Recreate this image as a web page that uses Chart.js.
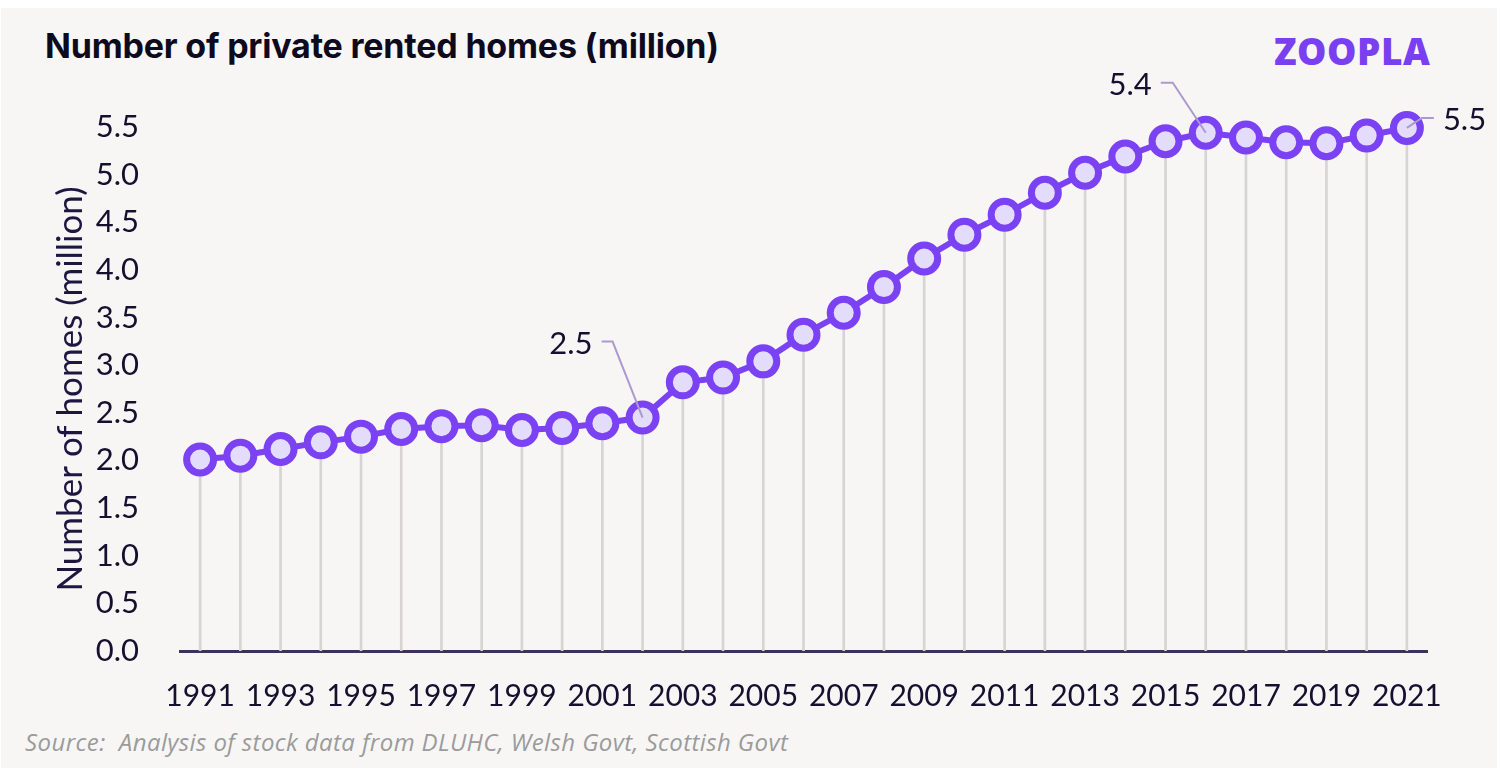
<!DOCTYPE html>
<html>
<head>
<meta charset="utf-8">
<script src="https://cdn.jsdelivr.net/npm/chart.js@4/dist/chart.umd.min.js"></script>
<style>
  html, body { margin: 0; padding: 0; background: #ffffff; }
  #wrap { position: relative; width: 1500px; height: 772px; overflow: hidden; }
  #panel { position: absolute; left: 1px; top: 8px; width: 1496px; height: 760px; background: #f7f6f4; }
  #title { position: absolute; left: 45px; top: 25px; font: 700 34px Inter, sans-serif; color: #0c0a1c; letter-spacing: -0.2px; }
  #logo { position: absolute; left: 1274px; top: 25px; font: 800 37px "Open Sans", sans-serif; color: #7b3ff2; letter-spacing: 0.5px; }
  #source { position: absolute; left: 25px; top: 725px; font: italic 24px "Open Sans", sans-serif; color: #9b9b9b; letter-spacing: 0.4px; }
  canvas { position: absolute; left: 0; top: 0; }
</style>
</head>
<body>
<div id="wrap">
  <div id="panel"></div>
  <div id="title">Number of private rented homes (million)</div>
  <div id="logo">ZOOPLA</div>
  <div id="source">Source:&nbsp; Analysis of stock data from DLUHC, Welsh Govt, Scottish Govt</div>
  <canvas id="myChart" width="1500" height="772"></canvas>
</div>
<script>
const years = ['1991', '1992', '1993', '1994', '1995', '1996', '1997', '1998', '1999', '2000',
  '2001', '2002', '2003', '2004', '2005', '2006', '2007', '2008', '2009', '2010',
  '2011', '2012', '2013', '2014', '2015', '2016', '2017', '2018', '2019', '2020', '2021'];
const homes = [2.01, 2.05, 2.12, 2.19, 2.25, 2.33, 2.36, 2.37, 2.32, 2.34,
  2.39, 2.45, 2.82, 2.87, 3.04, 3.32, 3.55, 3.82, 4.12, 4.37,
  4.58, 4.81, 5.02, 5.19, 5.35, 5.44, 5.39, 5.34, 5.33, 5.41, 5.49];
const calloutYears = ['2002', '2016', '2021'];
const calloutLabels = ['2.5', '5.4', '5.5'];

const textColor = '#15102f';
const purple = '#7b42f4';

// leader line shapes per callout (elbow + end offsets from the point)
const calloutShapes = [
  { ex: -30, ey: -76, tx: -41, side: 'left' },
  { ex: -33, ey: -50, tx: -45, side: 'left' },
  { ex: 15, ey: -10, tx: 27, side: 'right' },
];

const calloutPlugin = {
  id: 'callouts',
  afterDatasetsDraw(chart) {
    const { ctx, scales } = chart;
    ctx.save();
    calloutYears.forEach((yr, i) => {
      const idx = years.indexOf(yr);
      const px = scales.x.getPixelForValue(idx);
      const py = scales.y.getPixelForValue(homes[idx]);
      const s = calloutShapes[i];
      ctx.strokeStyle = '#a89bd0';
      ctx.lineWidth = 2;
      ctx.beginPath();
      ctx.moveTo(px, py);
      ctx.lineTo(px + s.ex, py + s.ey);
      ctx.lineTo(px + s.tx, py + s.ey);
      ctx.stroke();
      ctx.fillStyle = textColor;
      ctx.font = '31px Lato, sans-serif';
      ctx.textBaseline = 'middle';
      if (s.side === 'left') {
        ctx.textAlign = 'right';
        ctx.fillText(calloutLabels[i], px + s.tx - 9, py + s.ey + 2);
      } else {
        ctx.textAlign = 'left';
        ctx.fillText(calloutLabels[i], px + s.tx + 9, py + s.ey + 2);
      }
    });
    ctx.restore();
  },
};

const ctx = document.getElementById('myChart').getContext('2d');
const chart = new Chart(ctx, {
  type: 'bar',
  data: {
    labels: years,
    datasets: [
      {
        type: 'line',
        data: homes,
        borderColor: purple,
        borderWidth: 6,
        pointRadius: 13.5,
        pointHoverRadius: 13.5,
        pointBorderWidth: 7,
        pointBackgroundColor: '#e4dcfb',
        pointBorderColor: purple,
        tension: 0,
        clip: false,
        order: 0,
      },
      {
        type: 'bar',
        data: homes,
        backgroundColor: '#d6d4d4',
        barThickness: 2,
        order: 1,
      },
    ],
  },
  options: {
    responsive: false,
    animation: false,
    layout: { padding: { top: 127, left: 0, right: 73, bottom: 0 } },
    plugins: { legend: { display: false }, tooltip: { enabled: false } },
    scales: {
      x: {
        offset: true,
        grid: { display: false },
        border: { display: true, color: '#3b3358', width: 3 },
        ticks: {
          autoSkip: false,
          maxRotation: 0,
          padding: 19,
          color: textColor,
          font: { family: 'Lato', size: 30 },
          callback: (v, i) => (i % 2 === 0 ? years[i] : ''),
        },
        afterFit(scale) { scale.height = 121; },
      },
      y: {
        min: 0,
        max: 5.5,
        grid: { display: false },
        border: { display: false },
        ticks: {
          stepSize: 0.5,
          padding: 33,
          color: textColor,
          font: { family: 'Lato', size: 31 },
          callback: (v) => v.toFixed(1),
        },
        title: {
          display: true,
          text: 'Number of homes (million)',
          color: '#1d1640',
          font: { family: 'Lato', size: 35 },
          padding: { top: 50 },
        },
        afterFit(scale) { scale.width = 180; },
      },
    },
  },
  plugins: [calloutPlugin],
});
</script>
</body>
</html>
